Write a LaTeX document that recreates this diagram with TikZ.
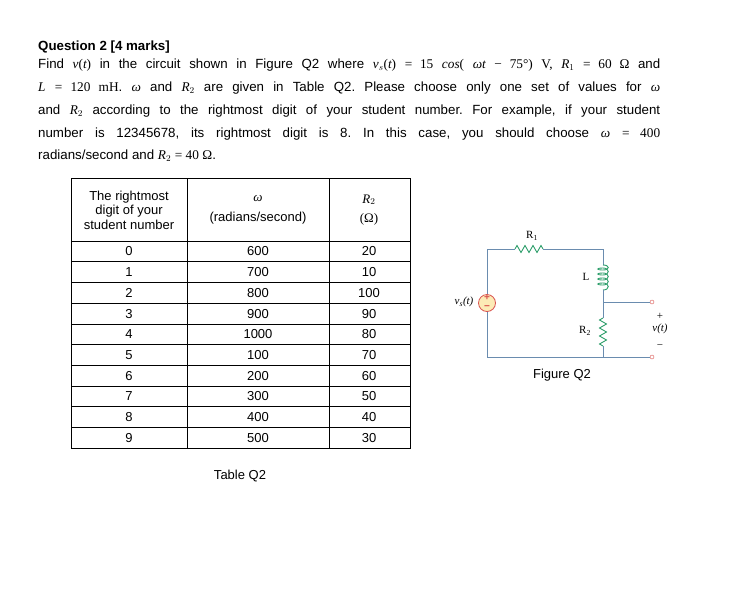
\documentclass[tikz,border=0pt]{standalone}
\usepackage{fontspec}
\setmainfont{Liberation Sans}
\newfontfamily\ser{Liberation Serif}
\newcommand{\mv}[1]{{\ser\itshape #1}}
\newcommand{\mr}[1]{{\ser #1}}
\begin{document}
\frenchspacing
\begin{tikzpicture}[x=1pt,y=-1pt,
  line/.style={anchor=base west,inner sep=0pt,font=\fontsize{13.3}{15}\selectfont},
  cell/.style={inner sep=0pt,font=\fontsize{13}{14.5}\selectfont},
  lab/.style={inner sep=0pt,font=\ser\fontsize{11}{12}\selectfont},
  wire/.style={draw=wirec,line width=0.9pt},
  comp/.style={draw=compc,line width=0.9pt}]
\definecolor{wirec}{HTML}{6A8CAF}
\definecolor{compc}{HTML}{2E9E6B}
\definecolor{srcc}{HTML}{D9534F}
\definecolor{srcf}{HTML}{FCEBB6}
\useasboundingbox (0,0) rectangle (730,614);
% text
\node[line] (t0) at (38,50) {\textbf{Question 2 [4 marks]}};
\node[line] (t1) at (38,68) {\makebox[622pt][s]{Find \mv{v}\mr{(}\mv{t}\mr{)} in the circuit shown in Figure Q2 where \mv{v}$_{\mr{s}}$\mr{(}\mv{t}\mr{)} \mr{= 15} \mv{cos}\mr{(} \mv{ωt} \mr{− 75°)} \mr{V,} \mv{R}$_{\mr{1}}$ \mr{= 60 Ω} and}};
\node[line] (t2) at (38,91) {\makebox[622pt][s]{\mv{L} \mr{= 120 mH}. \mv{ω} and \mv{R}$_{\mr{2}}$ are given in Table Q2. Please choose only one set of values for \mv{ω}}};
\node[line] (t3) at (38,114) {\makebox[622pt][s]{and \mv{R}$_{\mr{2}}$ according to the rightmost digit of your student number. For example, if your student}};
\node[line] (t4) at (38,137) {\makebox[622pt][s]{number is 12345678, its rightmost digit is 8. In this case, you should choose \mv{ω} \mr{= 400}}};
\node[line] (t5) at (38,159) {radians/second and \mv{R}$_{\mr{2}}$ \mr{= 40 Ω}.};
% table
\draw[line width=0.8pt] (71,178) rectangle (410,448);
\draw[line width=0.8pt] (187,178) -- (187,448) (329,178) -- (329,448) (71,241) -- (410,241);
\foreach \i in {1,...,9} \draw[line width=0.6pt] (71,{241+\i*20.7}) -- (410,{241+\i*20.7});
\node[cell,align=center] (h1) at (129,210) {The rightmost\\[0pt]digit of your\\[0pt]student number};
\node[cell,align=center] (h2) at (258,210) {\mv{ω}\\[5pt](radians/second)};
\node[cell,align=center] (h3) at (369,210) {\mv{R}$_{\mr{2}}$\\[5pt]\mr{(Ω)}};
\foreach \d/\w/\r [count=\k from 0] in {0/600/20,1/700/10,2/800/100,3/900/90,4/1000/80,5/100/70,6/200/60,7/300/50,8/400/40,9/500/30}{
  \node[cell] (a\k) at (129,{251.5+\k*20.7}) {\d};
  \node[cell] (b\k) at (258,{251.5+\k*20.7}) {\w};
  \node[cell] (c\k) at (369,{251.5+\k*20.7}) {\r};
}
\node[cell] (tq) at (240,476) {Table Q2};
% circuit
\coordinate (tl) at (487,249); \coordinate (tr) at (603,249);
\coordinate (bl) at (487,357); \coordinate (br) at (603,357);
\coordinate (mid) at (603,302);
\node[circle,draw=srcc,fill=srcf,line width=0.8pt,minimum size=17pt,inner sep=0pt] (src) at (487,303) {};
\node[inner sep=0pt,text=srcc,font=\bfseries\fontsize{10}{10}\selectfont] (sp) at (487,298) {+};
\node[inner sep=0pt,text=srcc,font=\bfseries\fontsize{10}{10}\selectfont] (sm) at (487,308) {−};
\draw[wire] (src.north) -- (tl) -- (515,249);
\draw[comp] (515,249) -- (517,245.5) -- (521,252.5) -- (525,245.5) -- (529,252.5) -- (533,245.5) -- (537,252.5) -- (541,245.5) -- (543,249);
\draw[wire] (543,249) -- (tr) -- (603,265);
\draw[comp] (603,265) .. controls (610,265) and (610,270) .. (603,270)
  .. controls (596,270) and (596,268) .. (603,268)
  .. controls (610,268) and (610,275) .. (603,275)
  .. controls (596,275) and (596,273) .. (603,273)
  .. controls (610,273) and (610,280) .. (603,280)
  .. controls (596,280) and (596,278) .. (603,278)
  .. controls (610,278) and (610,285) .. (603,285)
  .. controls (596,285) and (596,283) .. (603,283)
  .. controls (610,283) and (610,290) .. (603,290);
\draw[wire] (603,290) -- (mid) -- (603,318);
\draw[comp] (603,318) -- (599.5,320) -- (606.5,324) -- (599.5,328) -- (606.5,332) -- (599.5,336) -- (606.5,340) -- (599.5,344) -- (603,346);
\draw[wire] (603,346) -- (br) -- (bl) -- (src.south);
\node[circle,draw=srcc,inner sep=0pt,minimum size=4pt] (o1) at (652,302) {};
\node[circle,draw=srcc,inner sep=0pt,minimum size=4pt] (o2) at (652,357) {};
\draw[wire] (mid) -- (o1.west) (br) -- (o2.west);
\node[lab] (r1l) at (532,236) {R\textsubscript{1}};
\node[lab] (ll) at (586,277) {L};
\node[lab] (r2l) at (585,331) {R\textsubscript{2}};
\node[lab] (vsl) at (464,302) {\itshape v\textsubscript{s}(t)};
\node[lab] (pl) at (660,316) {+};
\node[lab] (vl) at (660,329) {\itshape v(t)};
\node[lab] (ml) at (660,347) {−};
\node[cell] (fq) at (562,375) {Figure Q2};
\end{tikzpicture}
\end{document}
